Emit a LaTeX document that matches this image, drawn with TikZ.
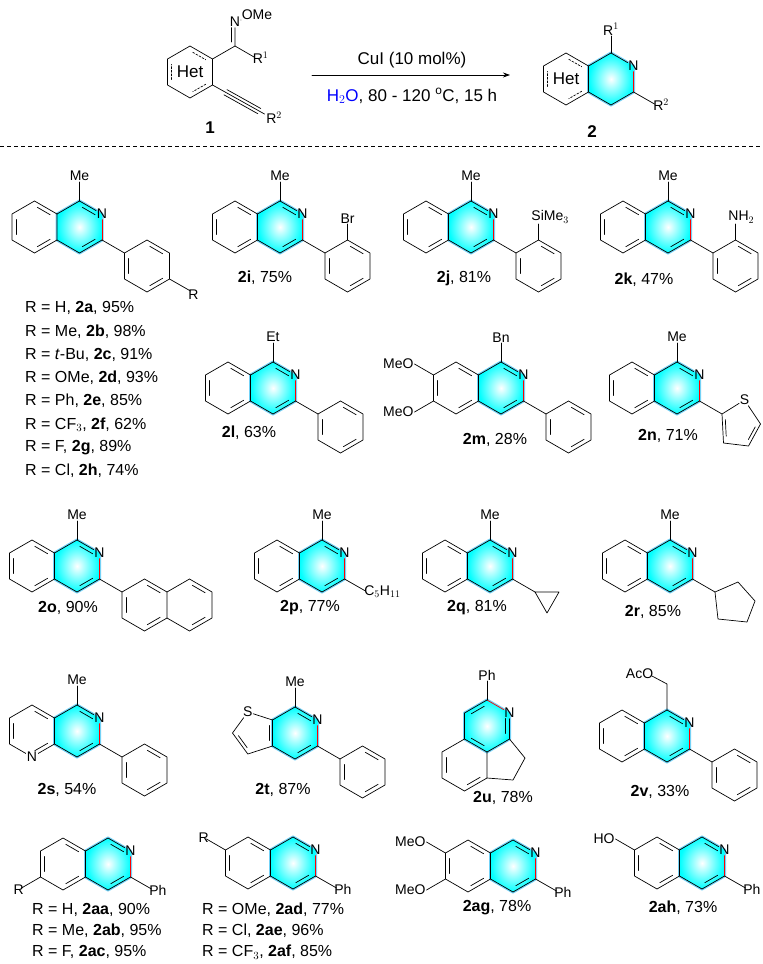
\documentclass[tikz,border=0pt]{standalone}
\usepackage{fontspec}
\setmainfont{Liberation Sans}
\usetikzlibrary{calc,arrows.meta}
\tikzset{
 bd/.style={line width=0.7pt,line cap=round,line join=round},
 atm/.style={inner sep=0.6pt,font=\fontsize{14}{16}\selectfont},
 lbl/.style={inner sep=0pt,font=\fontsize{16}{19}\selectfont},
 lst/.style={inner sep=0pt,anchor=west,font=\fontsize{16}{19}\selectfont},
 hdr/.style={inner sep=0pt,font=\fontsize{17}{20}\selectfont}
}
\newcommand\inl[3]{\draw[bd] ($0.697*(#1)+0.123*(#2)+0.18*(#3)$) -- ($0.123*(#1)+0.697*(#2)+0.18*(#3)$);}
\newcommand\dinl[3]{\draw[bd,dash pattern=on 2pt off 1.6pt] ($0.697*(#1)+0.123*(#2)+0.18*(#3)$) -- ($0.123*(#1)+0.697*(#2)+0.18*(#3)$);}
\newcommand\hexpts[2]{%
 \coordinate (#1t) at ($(#2)+(0,-26)$);
 \coordinate (#1ur) at ($(#2)+(22.5,-13)$);
 \coordinate (#1lr) at ($(#2)+(22.5,13)$);
 \coordinate (#1b) at ($(#2)+(0,26)$);
 \coordinate (#1ll) at ($(#2)+(-22.5,13)$);
 \coordinate (#1ul) at ($(#2)+(-22.5,-13)$);}
\newcommand\benz[2]{\hexpts{#1}{#2}%
 \draw[bd] (#1t)--(#1ur)--(#1lr)--(#1b)--(#1ll)--(#1ul)--cycle;
 \inl{#1t}{#1ur}{#2}\inl{#1lr}{#1b}{#2}\inl{#1ll}{#1ul}{#2}}
\newcommand\iqcore[3]{%
 \coordinate (#1L) at (#2,#3);
 \coordinate (#1R) at ($(#1L)+(45,0)$);
 \hexpts{#1l}{#1L}\hexpts{#1r}{#1R}%
 \draw[cyan!55,line width=3pt,line join=round] (#1rt)--(#1rur)--(#1rlr)--(#1rb)--(#1rll)--(#1rul)--cycle;
 \shade[inner color=white,outer color=cyan] (#1rt)--(#1rur)--(#1rlr)--(#1rb)--(#1rll)--(#1rul)--cycle;
 \node[atm] (#1N) at (#1rur) {N};
 \draw[bd] (#1rul)--(#1rt)--(#1N);
 \draw[bd,red] (#1N)--(#1rlr);
 \draw[bd] (#1rlr)--(#1rb)--(#1rll)--(#1rul);
 \inl{#1rt}{#1rur}{#1R}\inl{#1rlr}{#1rb}{#1R}}
\newcommand\leftbz[1]{%
 \draw[bd] (#1lur)--(#1lt)--(#1lul)--(#1lll)--(#1lb)--(#1llr);
 \inl{#1lt}{#1lur}{#1L}\inl{#1llr}{#1lb}{#1L}\inl{#1lll}{#1lul}{#1L}}
\newcommand\topsub[2]{\draw[bd] (#1rt) -- ++(0,-19) node[atm,anchor=south] (#1top) {#2};}
\newcommand\phen[1]{\coordinate (#1P) at ($(#1rlr)+(45,26)$);\benz{#1p}{#1P}\draw[bd] (#1rlr)--(#1pul);}
\newcommand\phtxt[1]{\draw[bd] (#1rlr)--++(21,12) coordinate (#1phe); \node[atm,anchor=north west] (#1ph) at ($(#1phe)+(-3,-4)$) {Ph};}
\begin{document}
\begin{tikzpicture}[x=1pt,y=-1pt]
\useasboundingbox (0,0) rectangle (763,964);
\coordinate (H) at (190,72);
\hexpts{h}{H}
\draw[bd] (ht)--(hur)--(hlr)--(hb)--(hll)--(hul)--cycle;
\dinl{ht}{hur}{H}\dinl{hlr}{hb}{H}\dinl{hll}{hul}{H}
\node[hdr] (het1) at (H) {Het};
\coordinate (hC) at ($(hur)+(22.5,-13)$);
\node[atm] (hN) at ($(hC)+(0,-24)$) {N};
\draw[bd] (hur)--(hC)--(hN);
\draw[bd] ($(hC)+(-3.5,-4)$)--($(hN.south)+(-3.5,0)$);
\node[atm,anchor=south west] (hOMe) at ($(hN)+(6,-2)$) {OMe};
\draw[bd] (hN)--(hOMe.south west);
\draw[bd] (hC)--++(19,11) coordinate (hR1e);
\node[atm,anchor=north west] (hR1) at ($(hR1e)+(-2,-6)$) {R$^1$};
\coordinate (hA) at ($(hlr)+(52,29)$);
\draw[bd] (hlr)--(hA);
\draw[bd] ($(hlr)!0.25!(hA)+(1.5,-2.6)$)--($(hlr)!0.9!(hA)+(1.5,-2.6)$);
\draw[bd] ($(hlr)!0.25!(hA)+(-1.5,2.6)$)--($(hlr)!0.9!(hA)+(-1.5,2.6)$);
\node[atm,anchor=west] (hR2) at ($(hA)+(1,4)$) {R$^2$};
\node[hdr] (c1) at (210,128) {\textbf{1}};
\coordinate (arA) at (312,75);
\coordinate (arB) at (510,75);
\draw[bd,-{Stealth[length=7pt,width=5pt]}] (arA)--(arB);
\node[hdr] (cond1) at (412,60) {CuI (10 mol\%)};
\node[hdr] (cond2) at (412,96) {\textcolor{blue}{H$_2$O}, 80 - 120 $^{\mathrm{o}}$C, 15 h};
\coordinate (pL) at (566,79);
\coordinate (pR) at ($(pL)+(45,0)$);
\hexpts{pl}{pL}\hexpts{pr}{pR}
\draw[cyan!55,line width=3pt,line join=round] (prt)--(prur)--(prlr)--(prb)--(prll)--(prul)--cycle;
\shade[inner color=white,outer color=cyan] (prt)--(prur)--(prlr)--(prb)--(prll)--(prul)--cycle;
\node[atm] (pN) at (prur) {N};
\draw[bd] (prul)--(prt)--(pN); \draw[bd,red] (pN)--(prlr);
\draw[bd] (prlr)--(prb)--(prll)--(prul);
\draw[bd] (plur)--(plt)--(plul)--(plll)--(plb)--(pllr);
\dinl{plt}{plur}{pL}\dinl{pllr}{plb}{pL}\dinl{plll}{plul}{pL}
\node[hdr] (het2) at (pL) {Het};
\draw[bd] (prt)--++(0,-17) node[atm,anchor=south] (pR1) {R$^1$};
\draw[bd] (prlr)--++(21,12) coordinate (pR2e);
\node[atm,anchor=north west] (pR2) at ($(pR2e)+(-2,-6)$) {R$^2$};
\node[hdr] (c2) at (592,132) {\textbf{2}};
\coordinate (dsA) at (0,146); \coordinate (dsB) at (763,146);
\draw[line width=0.6pt,dash pattern=on 4pt off 3pt] (dsA)--(dsB);
\iqcore{a}{34.5}{227}\leftbz{a}\topsub{a}{Me}\phen{a}
\draw[bd] (aplr)--++(21,12) node[atm,anchor=north west,xshift=-3pt,yshift=2pt] (aRR) {R};
\node[lst] (la1) at (25,308) {R = H, \textbf{2a}, 95\%};
\node[lst] (la2) at (25,331.3) {R = Me, \textbf{2b}, 98\%};
\node[lst] (la3) at (25,354.6) {R = \textit{t}-Bu, \textbf{2c}, 91\%};
\node[lst] (la4) at (25,377.9) {R = OMe, \textbf{2d}, 93\%};
\node[lst] (la5) at (25,401.2) {R = Ph, \textbf{2e}, 85\%};
\node[lst] (la6) at (25,424.5) {R = CF$_3$, \textbf{2f}, 62\%};
\node[lst] (la7) at (25,447.8) {R = F, \textbf{2g}, 89\%};
\node[lst] (la8) at (25,471.1) {R = Cl, \textbf{2h}, 74\%};
\iqcore{i}{235}{227}\leftbz{i}\topsub{i}{Me}\phen{i}
\draw[bd] (ipt)--++(0,-16) node[atm,anchor=south] (iBr) {Br};
\node[lbl] (li) at (265,278) {\textbf{2i}, 75\%};
\iqcore{j}{426}{227}\leftbz{j}\topsub{j}{Me}\phen{j}
\draw[bd] (jpt)--++(0,-16) node[atm,anchor=south west,xshift=-8pt] (jSi) {SiMe$_3$};
\node[lbl] (lj) at (464,278) {\textbf{2j}, 81\%};
\iqcore{k}{623}{227}\leftbz{k}\topsub{k}{Me}\phen{k}
\draw[bd] (kpt)--++(0,-16) node[atm,anchor=south west,xshift=-8pt] (kNH) {NH$_2$};
\node[lbl] (lk) at (644,280) {\textbf{2k}, 47\%};
\iqcore{l}{228}{388}\leftbz{l}\topsub{l}{Et}\phen{l}
\node[lbl] (ll) at (249,433) {\textbf{2l}, 63\%};
\iqcore{m}{456}{388}\leftbz{m}\topsub{m}{Bn}\phen{m}
\draw[bd] (mlul)--++(-19,-11) node[atm,anchor=east] (mO1) {MeO};
\draw[bd] (mlll)--++(-19,11) node[atm,anchor=east] (mO2) {MeO};
\node[lbl] (lm) at (495,440) {\textbf{2m}, 28\%};
\iqcore{n}{632}{388}\leftbz{n}\topsub{n}{Me}
\coordinate (nT2) at ($(nrlr)+(22.5,13)$);
\node[atm] (nS) at ($(nrlr)+(45,-1)$) {S};
\coordinate (nT5) at ($(nrlr)+(61,23)$);
\coordinate (nT4) at ($(nrlr)+(49,45)$);
\coordinate (nT3) at ($(nrlr)+(24,42)$);
\coordinate (nTC) at ($(nrlr)+(40,24)$);
\draw[bd] (nrlr)--(nT2)--(nS)--(nT5)--(nT4)--(nT3)--(nT2);
\inl{nT2}{nT3}{nTC}\inl{nT4}{nT5}{nTC}
\node[lbl] (ln) at (668,436) {\textbf{2n}, 71\%};
\iqcore{o}{32}{566}\leftbz{o}\topsub{o}{Me}
\coordinate (oP) at ($(orlr)+(45,26)$);
\coordinate (oQ) at ($(oP)+(45,0)$);
\hexpts{op}{oP}\hexpts{oq}{oQ}
\draw[bd] (orlr)--(opul);
\draw[bd] (opt)--(opur)--(oplr)--(opb)--(opll)--(opul)--cycle;
\draw[bd] (opur)--(oqt)--(oqur)--(oqlr)--(oqb)--(oplr);
\inl{opt}{opur}{oP}\inl{opll}{opul}{oP}\inl{oplr}{opb}{oP}
\inl{oqt}{oqur}{oQ}\inl{oqlr}{oqb}{oQ}
\node[lbl] (lo) at (68,608) {\textbf{2o}, 90\%};
\iqcore{p}{277}{566}\leftbz{p}\topsub{p}{Me}
\draw[bd] (prlr)--++(21,12) coordinate (ppe);
\node[atm,anchor=north west] (pC5) at ($(ppe)+(-2,-6)$) {C$_5$H$_{11}$};
\node[lbl] (lp) at (310,608) {\textbf{2p}, 77\%};
\iqcore{q}{445}{566}\leftbz{q}\topsub{q}{Me}
\coordinate (qa) at ($(qrlr)+(22.5,13)$);
\coordinate (qb) at ($(qa)+(24,0)$);
\coordinate (qc) at ($(qa)+(12,21)$);
\draw[bd] (qrlr)--(qa);
\draw[bd] (qa)--(qb)--(qc)--cycle;
\node[lbl] (lq) at (477,608) {\textbf{2q}, 81\%};
\iqcore{r}{625}{566}\leftbz{r}\topsub{r}{Me}
\coordinate (ra) at ($(rrlr)+(22.5,13)$);
\coordinate (rb) at ($(ra)+(23,-10)$);
\coordinate (rc) at ($(ra)+(40,9)$);
\coordinate (rd) at ($(ra)+(32,30)$);
\coordinate (re) at ($(ra)+(3,27)$);
\draw[bd] (rrlr)--(ra);
\draw[bd] (ra)--(rb)--(rc)--(rd)--(re)--cycle;
\node[lbl] (lr) at (653,612) {\textbf{2r}, 85\%};
\iqcore{s}{32}{731}\leftbz{s}\topsub{s}{Me}\phen{s}
\node[atm,fill=white] (sN2) at (slb) {N};
\node[lbl] (ls) at (67,790) {\textbf{2s}, 54\%};
\iqcore{t}{250}{733}\topsub{t}{Me}\phen{t}
\node[atm] (tS) at ($(tL)+(-2.2,-21)$) {S};
\coordinate (tC2) at ($(tL)+(-17.5,0)$);
\coordinate (tC3) at ($(tL)+(-2.2,21)$);
\coordinate (tcen) at ($(tL)+(4.6,0)$);
\draw[bd] (tlur)--(tS)--(tC2)--(tC3)--(tllr);
\inl{tC2}{tC3}{tcen}\inl{tllr}{tlur}{tcen}
\node[lbl] (lt) at (283,790) {\textbf{2t}, 87\%};
\coordinate (U) at (487,726);
\hexpts{u}{U}
\coordinate (V) at ($(ull)+(0,26)$);
\hexpts{v}{V}
\draw[cyan!55,line width=3pt,line join=round] (ut)--(uur)--(ulr)--(ub)--(ull)--(uul)--cycle;
\shade[inner color=white,outer color=cyan] (ut)--(uur)--(ulr)--(ub)--(ull)--(uul)--cycle;
\node[atm] (uN) at (uur) {N};
\draw[bd,red] (ut)--(uN);
\draw[bd] (uN)--(ulr)--(ub)--(ull)--(uul)--(ut);
\inl{uul}{ut}{U}\inl{uur}{ulr}{U}\inl{ull}{ub}{U}
\draw[bd] (vt)--(vul)--(vll)--(vb)--(vlr)--(vur);
\inl{vul}{vll}{V}\inl{vb}{vlr}{V}
\coordinate (uc1) at ($(ulr)+(15.5,19)$);
\coordinate (uc2) at ($(uc1)+(-12,22)$);
\draw[bd] (ulr)--(uc1)--(uc2)--(vlr);
\draw[bd] (ut)--++(0,-19) node[atm,anchor=south] (uPh) {Ph};
\node[lbl] (lu) at (503,798) {\textbf{2u}, 78\%};
\iqcore{v}{622}{736}\leftbz{v}\phen{v}
\draw[bd] (vrt)--++(0,-26) coordinate (vch)--++(-15,-8) coordinate (vOe);
\node[atm,anchor=east] (vAcO) at ($(vOe)+(2,-2)$) {AcO};
\node[lbl] (lv) at (660,792) {\textbf{2v}, 33\%};
\iqcore{w}{63}{864}\leftbz{w}\phtxt{w}
\draw[bd] (wlll)--++(-19,11) coordinate (wRe);
\node[atm,anchor=north east] (wR) at ($(wRe)+(3,-4)$) {R};
\node[lst] (lw1) at (32,910) {R = H, \textbf{2aa}, 90\%};
\node[lst] (lw2) at (32,931) {R = Me, \textbf{2ab}, 95\%};
\node[lst] (lw3) at (32,952) {R = F, \textbf{2ac}, 95\%};
\iqcore{x}{248}{863}\leftbz{x}\phtxt{x}
\draw[bd] (xlul)--++(-19,-11) coordinate (xRe);
\node[atm,anchor=south east] (xR) at ($(xRe)+(3,4)$) {R};
\node[lst] (lx1) at (202,910) {R = OMe, \textbf{2ad}, 77\%};
\node[lst] (lx2) at (202,931) {R = Cl, \textbf{2ae}, 96\%};
\node[lst] (lx3) at (202,952) {R = CF$_3$, \textbf{2af}, 85\%};
\iqcore{y}{468}{866}\leftbz{y}\phtxt{y}
\draw[bd] (ylul)--++(-19,-11) node[atm,anchor=east] (yO1) {MeO};
\draw[bd] (ylll)--++(-19,11) node[atm,anchor=east] (yO2) {MeO};
\node[lbl] (ly) at (497,908) {\textbf{2ag}, 78\%};
\iqcore{z}{657}{863}\leftbz{z}\phtxt{z}
\draw[bd] (zlul)--++(-19,-11) node[atm,anchor=east] (zHO) {HO};
\node[lbl] (lz) at (683,908) {\textbf{2ah}, 73\%};
\end{tikzpicture}
\end{document}
